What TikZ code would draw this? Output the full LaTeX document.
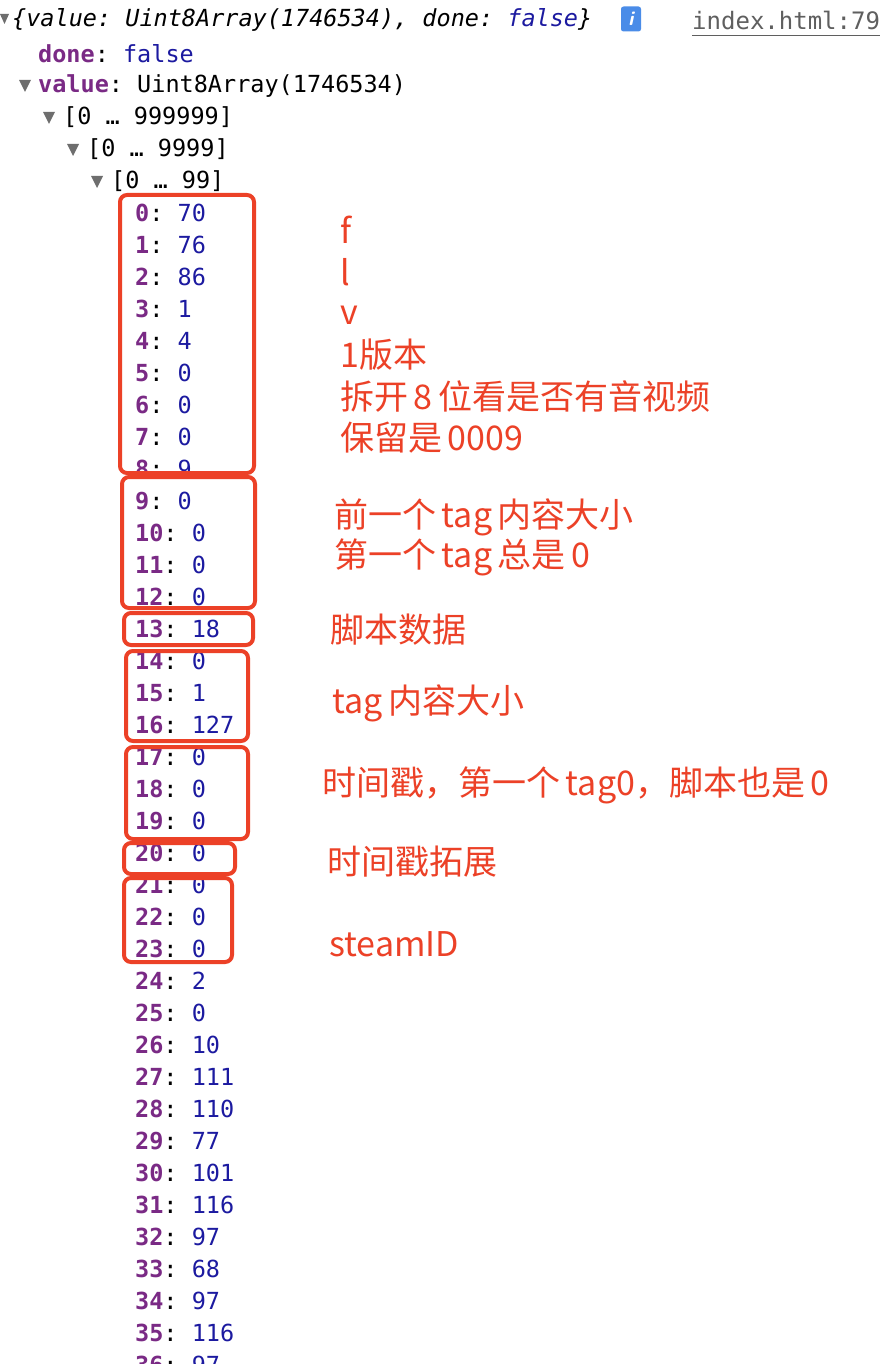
\documentclass[tikz,border=0pt]{standalone}
\usepackage{fontspec}
\setmonofont{DejaVu Sans Mono}
\newfontfamily\cjk{Noto Sans CJK SC}
\definecolor{keyc}{HTML}{7A2A85}
\definecolor{valc}{HTML}{1C1AA0}
\definecolor{redc}{HTML}{EC4127}
\definecolor{grayc}{HTML}{5F5F5F}
\definecolor{tric}{HTML}{6E6E6E}
\definecolor{infoc}{HTML}{4A8CE8}
\begin{document}
\begin{tikzpicture}[x=1pt,y=-1pt,
  mono/.style={anchor=west,inner sep=0pt,font=\ttfamily\fontsize{23.5}{23.5}\selectfont},
  note/.style={anchor=west,inner sep=0pt,text=redc,font=\cjk\fontsize{34}{34}\selectfont},
  redbox/.style={draw=redc,line width=4pt,rounded corners=7pt},
  tri/.style={fill=tric}]
\useasboundingbox (0,0) rectangle (894,1364);
\clip (0,0) rectangle (894,1364);
\fill[white] (0,0) rectangle (894,1364);
% header
\fill[tric] (0,14) -- (9,14) -- (4.5,24) -- cycle;
\node[mono,font=\ttfamily\fontsize{23.5}{23.5}\selectfont] (h1) at (12,20) {\itshape\{value: Uint8Array(1746534), done: \textcolor{valc}{false}\}};
\node[fill=infoc,rounded corners=2.5pt,minimum width=20pt,minimum height=25pt,inner sep=0pt,text=white,font=\sffamily\bfseries\itshape\fontsize{20}{20}\selectfont] (info) at (631,19) {i};
\node[mono,text=grayc,font=\ttfamily\fontsize{24}{24}\selectfont] (idx) at (692,20) {index.html:79};
\draw[grayc,line width=1pt] (idx.south west) ++(0,6) -- ++(188,0);
\node[mono] (done) at (38,54) {\textbf{\textcolor{keyc}{done}}: \textcolor{valc}{false}};
\fill[tric] (19,80) -- (31,80) -- (25,92) -- cycle;
\node[mono] (val) at (38,86) {\textbf{\textcolor{keyc}{value}}: Uint8Array(1746534)};
\fill[tric] (43,112) -- (55,112) -- (49,124) -- cycle;
\node[mono] (r1) at (63,117) {[0 … 999999]};
\fill[tric] (67,144) -- (79,144) -- (73,156) -- cycle;
\node[mono] (r2) at (87,149) {[0 … 9999]};
\fill[tric] (91,176) -- (103,176) -- (97,188) -- cycle;
\node[mono] (r3) at (111,181) {[0 … 99]};
% items
\foreach \i/\v in {0/70,1/76,2/86,3/1,4/4,5/0,6/0,7/0,8/9,9/0,10/0,11/0,12/0,13/18,14/0,15/1,16/127,17/0,18/0,19/0,20/0,21/0,22/0,23/0,24/2,25/0,26/10,27/111,28/110,29/77,30/101,31/116,32/97,33/68,34/97,35/116,36/97}
  \node[mono] (it\i) at (135,{213+32*\i}) {\textbf{\textcolor{keyc}{\i}}: \textcolor{valc}{\v}};
% boxes
\draw[redbox] (120,195) rectangle (254,473);
\draw[redbox] (122,477) rectangle (255,608);
\draw[redbox] (124,613) rectangle (253,645);
\draw[redbox] (126,651) rectangle (248,741);
\draw[redbox] (126,747) rectangle (248,839);
\draw[redbox] (124,843) rectangle (235,874);
\draw[redbox] (124,878) rectangle (232,962);
% notes
\node[note] (n1) at (340,230) {f};
\node[note] (n2) at (340,272) {l};
\node[note] (n3) at (340,315) {v};
\node[note] (n4) at (340,355) {1版本};
\node[note] (n5) at (340,397) {拆开\,8\,位看是否有音视频};
\node[note] (n6) at (340,438) {保留是\,0009};
\node[note] (n7) at (334,517) {前一个\,tag\,内容大小};
\node[note] (n8) at (334,557) {第一个\,tag\,总是\,0};
\node[note] (n9) at (330,630) {脚本数据};
\node[note] (n10) at (332,703) {tag\,内容大小};
\node[note] (n11) at (322,785) {时间戳，第一个\,tag0，脚本也是\,0};
\node[note] (n12) at (327,862) {时间戳拓展};
\node[note] (n13) at (329,944) {steamID};
\end{tikzpicture}
\end{document}
